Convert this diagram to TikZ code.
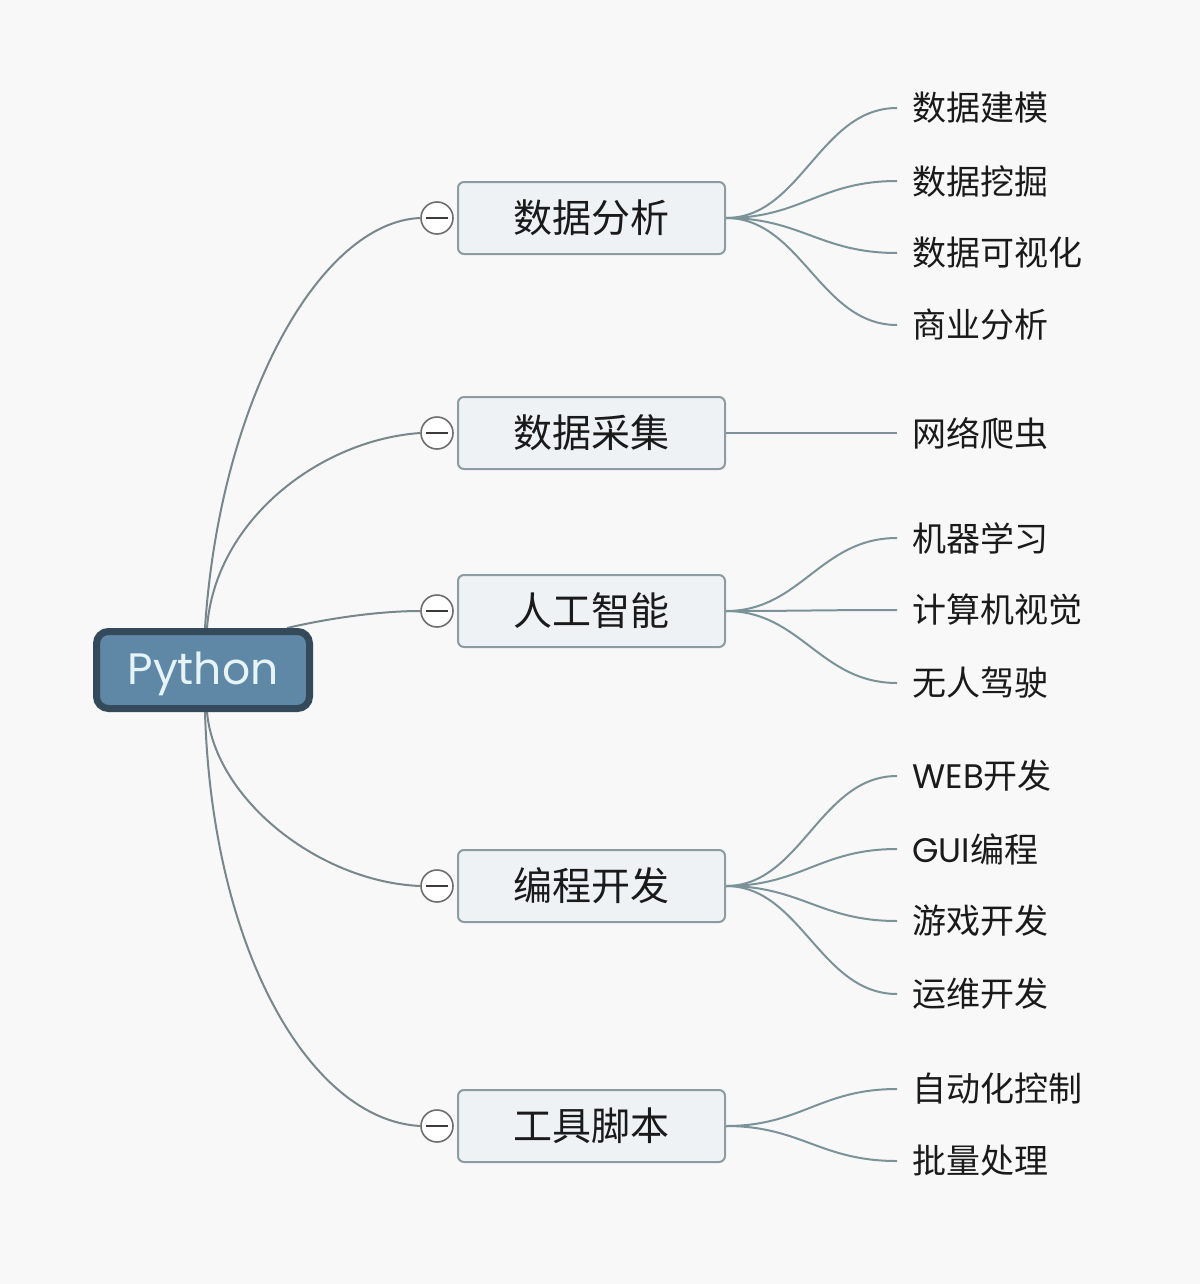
\documentclass[tikz,border=0pt]{standalone}
\usepackage{fontspec}
\newfontfamily\cjk{Noto Sans CJK SC}
\newfontfamily\pop{Poppins}
\definecolor{bgc}{HTML}{F8F8F8}
\definecolor{pyfill}{HTML}{5E88A6}
\definecolor{pyborder}{HTML}{34495A}
\definecolor{pytext}{HTML}{E6F3F7}
\definecolor{boxfill}{HTML}{EEF2F5}
\definecolor{boxdraw}{HTML}{8C9CA2}
\definecolor{linec}{HTML}{77878B}
\definecolor{leafline}{HTML}{7B9398}
\definecolor{txt}{HTML}{1A1A1A}
\definecolor{togdraw}{HTML}{6E6E6E}
\definecolor{togbar}{HTML}{3A3A3A}
\pgfdeclarelayer{bglayer}
\pgfdeclarelayer{linelayer}
\pgfsetlayers{bglayer,linelayer,main}
\begin{document}
\begin{tikzpicture}[x=0.5pt,y=-0.5pt,
 root/.style={draw=pyborder, line width=3.5pt, fill=pyfill, rounded corners=6pt,
   minimum width=106.5pt, minimum height=38.5pt, text=pytext,
   font=\pop\fontsize{22}{24}\selectfont, inner sep=0pt},
 branch/.style={draw=boxdraw, line width=1pt, fill=boxfill, rounded corners=3pt,
   minimum width=133.5pt, minimum height=36pt, text=txt,
   font=\cjk\fontsize{19.5}{22}\selectfont, inner sep=0pt},
 toggle/.style={circle, draw=togdraw, line width=0.8pt, fill=white, minimum size=16pt,
   inner sep=0pt, path picture={\draw[line width=0.8pt, togbar]
   ([xshift=-5.5pt]path picture bounding box.center) --
   ([xshift=5.5pt]path picture bounding box.center);}},
 leaf/.style={anchor=west, inner xsep=7.5pt, inner ysep=0pt, text=txt,
   font=\cjk\fontsize{17}{20}\selectfont},
 trunk/.style={draw=linec, line width=1pt},
 twig/.style={draw=leafline, line width=1pt}
]
\useasboundingbox (0,0) rectangle (1200,1284);
\begin{pgfonlayer}{bglayer}
\fill[bgc] (0,0) rectangle (1200,1284);
\end{pgfonlayer}

% root
\node[root] (py) at (203,670) {\raisebox{-1.8pt}[\height][\depth]{Python}};

% branches
\node[branch] (b1) at (591.5,218) {数据分析};
\node[branch] (b2) at (591.5,433) {数据采集};
\node[branch] (b3) at (591.5,611) {人工智能};
\node[branch] (b4) at (591.5,886) {编程开发};
\node[branch] (b5) at (591.5,1126) {工具脚本};

% toggles
\node[toggle] (c1) at (437,218) {};
\node[toggle] (c2) at (437,433) {};
\node[toggle] (c3) at (437,611) {};
\node[toggle] (c4) at (437,886) {};
\node[toggle] (c5) at (437,1126) {};

% leaves
\node[leaf] (l11) at (897,108) {数据建模};
\node[leaf] (l12) at (897,181) {数据挖掘};
\node[leaf] (l13) at (897,253) {数据可视化};
\node[leaf] (l14) at (897,325) {商业分析};
\node[leaf] (l21) at (897,433) {网络爬虫};
\node[leaf] (l31) at (897,538) {机器学习};
\node[leaf] (l32) at (897,610) {计算机视觉};
\node[leaf] (l33) at (897,683) {无人驾驶};
\node[leaf] (l41) at (897,776) {{\pop WEB}开发};
\node[leaf] (l42) at (897,849) {{\pop GUI}编程};
\node[leaf] (l43) at (897,921) {游戏开发};
\node[leaf] (l44) at (897,994) {运维开发};
\node[leaf] (l51) at (897,1089) {自动化控制};
\node[leaf] (l52) at (897,1161) {批量处理};

\begin{pgfonlayer}{linelayer}
% trunk connectors
\draw[trunk] ([xshift=1pt]py.north) .. controls (220,400) and (320,222) .. (c1.west);
\draw[trunk] ([xshift=2pt]py.north) .. controls (215,520) and (320,440) .. (c2.west);
\draw[trunk] ([xshift=42pt]py.north) .. controls (330,618) and (380,611) .. (c3.west);
\draw[trunk] ([xshift=2pt]py.south) .. controls (215,800) and (320,882) .. (c4.west);
\draw[trunk] ([xshift=1pt]py.south) .. controls (212,950) and (310,1120) .. (c5.west);
% twigs
\foreach \b/\l in {b1/l11,b1/l12,b1/l13,b1/l14,b2/l21,b3/l31,b3/l32,b3/l33,
                   b4/l41,b4/l42,b4/l43,b4/l44,b5/l51,b5/l52}
  \draw[twig] (\b.east) .. controls +(75,0) and +(-77,0) .. (\l.west);
\end{pgfonlayer}
\end{tikzpicture}
\end{document}
